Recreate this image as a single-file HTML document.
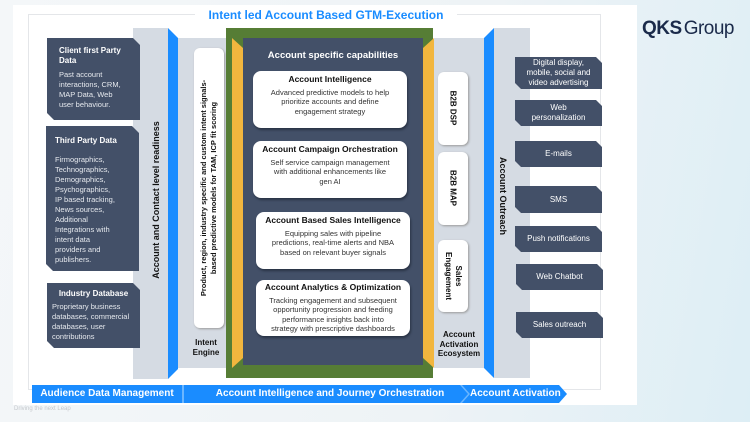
<!DOCTYPE html>
<html><head><meta charset="utf-8"><style>
*{margin:0;padding:0;box-sizing:border-box}
body{width:750px;height:422px;overflow:hidden;position:relative;font-family:"Liberation Sans",Arial,sans-serif;background:linear-gradient(100deg,#f4f7f9 0%,#eef3f6 60%,#ddeef5 100%)}
.a{position:absolute}
.dk{position:absolute;background:#435068;color:#fff;clip-path:polygon(0 0,calc(100% - 7px) 0,100% 7px,100% 100%,7px 100%,0 calc(100% - 7px));font-size:7.5px;line-height:10px}
.rb{position:absolute;background:#435068;color:#fff;font-size:8px;line-height:10px;text-align:center;display:flex;align-items:center;justify-content:center;clip-path:polygon(0 0,calc(100% - 6px) 0,100% 6px,100% 100%,6px 100%,0 calc(100% - 6px))}
.wb{position:absolute;background:#fff;border-radius:8px;box-shadow:1px 2px 2px #2a3446;text-align:center;color:#333;font-size:7.5px;line-height:9.5px}
.wb b{display:block;color:#111;font-size:8.5px;margin:4px 0 3px}
.vt{position:absolute;white-space:nowrap;font-weight:bold;color:#111}
</style></head><body>
<div class="a" style="left:13px;top:5px;width:624px;height:400px;background:#fff"></div>
<div class="a" style="left:28px;top:14px;width:573px;height:376px;border:1px solid #e4e6e9;background:#fff"></div>
<div class="a" style="left:195px;top:6px;width:262px;height:18px;background:#fff;color:#1a8cff;font-weight:bold;font-size:12px;text-align:center;line-height:18px;white-space:nowrap">Intent led Account Based GTM-Execution</div>
<div class="a" style="left:642px;top:18px;font-size:19px;color:#1a2a4a;letter-spacing:-0.5px"><b style="font-weight:900">QKS</b><span style="margin-left:2px">Group</span></div>

<div class="a" style="left:133px;top:28px;width:35px;height:351px;background:#d5dbe3"></div>
<div class="a" style="left:168px;top:28px;width:10px;height:351px;background:#1a8cff;clip-path:polygon(0 0,100% 10px,100% calc(100% - 10px),0 100%)"></div>
<div class="vt" style="top:200px;font-size:9px;transform:translate(-50%,-50%) rotate(-90deg);left:156px">Account and Contact level readiness</div>
<div class="a" style="left:178px;top:38px;width:54px;height:330px;background:#d5dbe3"></div>
<div class="a" style="left:194px;top:48px;width:30px;height:280px;background:#fff;border-radius:6px;box-shadow:1px 1px 2px #999"></div>
<div class="vt" style="left:209px;top:188px;font-size:7.5px;line-height:10px;text-align:center;transform:translate(-50%,-50%) rotate(-90deg)">Product, region, industry specific and custom intent signals-<br>based predictive models for TAM, ICP fit scoring</div>
<div class="a" style="left:180px;top:338px;width:52px;text-align:center;font-size:8px;font-weight:bold;line-height:10px;color:#111">Intent<br>Engine</div>

<div class="dk" style="left:47px;top:38px;width:93px;height:82px;padding:8px 12px"><b style="font-size:8px">Client first Party Data</b><div style="margin-top:4px;color:#e6e9ee">Past account interactions, CRM, MAP Data, Web user behaviour.</div></div>
<div class="dk" style="left:46px;top:126px;width:93px;height:145px;padding:10px 9px"><b style="font-size:8px">Third Party Data</b><div style="margin-top:9px;color:#e6e9ee;padding-right:14px">Firmographics, Technographics, Demographics, Psychographics, IP based tracking, News sources, Additional Integrations with intent data providers and publishers.</div></div>
<div class="dk" style="left:47px;top:283px;width:93px;height:65px;padding:6px 5px"><b style="font-size:8px;display:block;text-align:center">Industry Database</b><div style="margin-top:3px;color:#e6e9ee">Proprietary business databases, commercial databases, user contributions</div></div>

<div class="a" style="left:226px;top:28px;width:207px;height:350px;background:#567d35"></div>
<div class="a" style="left:232px;top:38px;width:11px;height:330px;background:#f2b63e;clip-path:polygon(0 0,100% 10px,100% calc(100% - 10px),0 100%)"></div>
<div class="a" style="left:423px;top:38px;width:11px;height:330px;background:#f2b63e;clip-path:polygon(0 10px,100% 0,100% 100%,0 calc(100% - 10px))"></div>
<div class="a" style="left:243px;top:38px;width:180px;height:327px;background:#435068"></div>
<div class="a" style="left:243px;top:50px;width:180px;text-align:center;color:#fff;font-weight:bold;font-size:9.5px">Account specific capabilities</div>
<div class="wb" style="left:253px;top:71px;width:154px;height:57px"><b>Account Intelligence</b>Advanced predictive models to help<br>prioritize accounts and define<br>engagement strategy</div>
<div class="wb" style="left:253px;top:141px;width:154px;height:57px"><b>Account Campaign Orchestration</b>Self service campaign management<br>with additional enhancements like<br>gen AI</div>
<div class="wb" style="left:256px;top:212px;width:154px;height:57px"><b>Account Based Sales Intelligence</b>Equipping sales with pipeline<br>predictions, real-time alerts and NBA<br>based on relevant buyer signals</div>
<div class="wb" style="left:256px;top:280px;width:154px;height:56px"><b style="margin-top:3px">Account Analytics &amp; Optimization</b>Tracking engagement and subsequent<br>opportunity progression and feeding<br>performance insights back into<br>strategy with prescriptive dashboards</div>

<div class="a" style="left:434px;top:38px;width:50px;height:330px;background:#d5dbe3"></div>
<div class="a" style="left:438px;top:72px;width:30px;height:73px;background:#fff;border-radius:6px;box-shadow:1px 1px 2px #999"></div>
<div class="a" style="left:438px;top:152px;width:30px;height:73px;background:#fff;border-radius:6px;box-shadow:1px 1px 2px #999"></div>
<div class="a" style="left:438px;top:240px;width:30px;height:72px;background:#fff;border-radius:6px;box-shadow:1px 1px 2px #999"></div>
<div class="vt" style="left:453px;top:108px;font-size:8px;transform:translate(-50%,-50%) rotate(90deg)">B2B DSP</div>
<div class="vt" style="left:453px;top:188px;font-size:8px;transform:translate(-50%,-50%) rotate(90deg)">B2B MAP</div>
<div class="vt" style="left:453px;top:276px;font-size:8px;line-height:10px;text-align:center;transform:translate(-50%,-50%) rotate(90deg)">Sales<br>Engagement</div>
<div class="a" style="left:434px;top:330px;width:50px;text-align:center;font-size:8px;font-weight:bold;line-height:9.5px;color:#111">Account<br>Activation<br>Ecosystem</div>
<div class="a" style="left:484px;top:28px;width:10px;height:350px;background:#1a8cff;clip-path:polygon(0 10px,100% 0,100% 100%,0 calc(100% - 10px))"></div>
<div class="a" style="left:494px;top:28px;width:36px;height:350px;background:#d5dbe3"></div>
<div class="vt" style="left:503px;top:196px;font-size:9px;transform:translate(-50%,-50%) rotate(90deg)">Account Outreach</div>
<div class="rb" style="left:515px;top:57px;width:87px;height:32px">Digital display,<br>mobile, social and<br>video advertising</div>
<div class="rb" style="left:515px;top:100px;width:87px;height:26px">Web<br>personalization</div>
<div class="rb" style="left:515px;top:141px;width:87px;height:26px">E-mails</div>
<div class="rb" style="left:515px;top:186px;width:87px;height:27px">SMS</div>
<div class="rb" style="left:515px;top:226px;width:87px;height:26px">Push notifications</div>
<div class="rb" style="left:516px;top:264px;width:87px;height:26px">Web Chatbot</div>
<div class="rb" style="left:516px;top:312px;width:87px;height:26px">Sales outreach</div>

<div class="a" style="left:32px;top:385px;width:535px;height:18px;background:#1a8cff;clip-path:polygon(0 0,calc(100% - 8px) 0,100% 50%,calc(100% - 8px) 100%,0 100%)"></div>
<div class="a" style="left:32px;top:385px;width:150px;height:18px;color:#fff;font-weight:bold;font-size:10px;line-height:18px;text-align:center;white-space:nowrap">Audience Data Management</div>
<div class="a" style="left:182px;top:385px;width:2px;height:18px;background:#6bb6ff"></div>
<div class="a" style="left:190px;top:385px;width:280px;height:18px;color:#fff;font-weight:bold;font-size:10px;line-height:18px;text-align:center;white-space:nowrap">Account Intelligence and Journey Orchestration</div>
<div class="a" style="left:460px;top:385px;width:10px;height:18px;background:#6bb6ff;clip-path:polygon(0 0,2px 0,100% 50%,2px 100%,0 100%,8px 50%)"></div>
<div class="a" style="left:470px;top:385px;width:90px;height:18px;color:#fff;font-weight:bold;font-size:10px;line-height:18px;text-align:center;white-space:nowrap">Account Activation</div>
<div class="a" style="left:14px;top:406px;font-size:6px;color:#c5c8cc">Driving the next Leap</div>
</body></html>
